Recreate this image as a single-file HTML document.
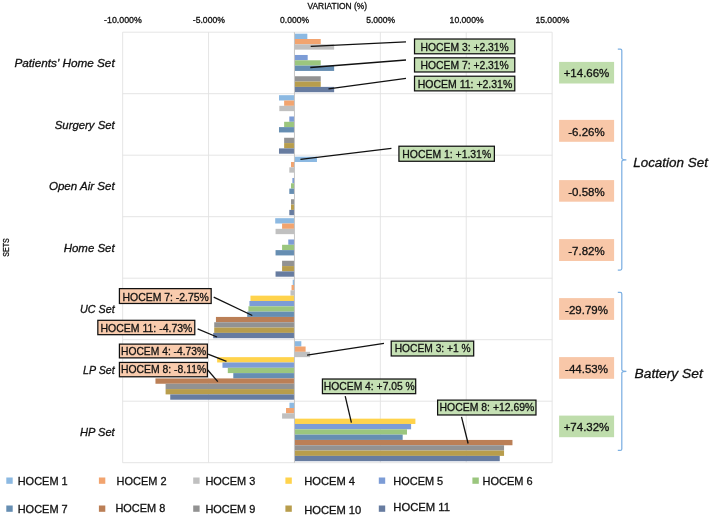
<!DOCTYPE html>
<html lang="en"><head><meta charset="utf-8"><title>Variation by set</title>
<style>html,body{margin:0;padding:0;background:#fff}svg{display:block}text{font-family:"Liberation Sans",sans-serif;fill:#111;stroke:#111;stroke-width:.3px}.it{font-style:italic}</style>
</head><body>
<svg width="710" height="518" viewBox="0 0 710 518">
<rect width="710" height="518" fill="#fff"/>
<path d="M122.65 32.20V462.70M208.55 32.20V462.70M380.35 32.20V462.70M466.25 32.20V462.70M552.15 32.20V462.70M122.65 32.20H552.15M122.65 93.70H552.15M122.65 155.20H552.15M122.65 216.70H552.15M122.65 278.20H552.15M122.65 339.70H552.15M122.65 401.20H552.15M122.65 462.70H552.15" stroke="#E2E2E2" stroke-width="0.9" fill="none"/>
<rect x="294.45" y="33.69" width="12.88" height="5.32" fill="#8CB9E2"/>
<rect x="294.45" y="39.01" width="26.29" height="5.32" fill="#F2A46F"/>
<rect x="294.45" y="44.33" width="39.69" height="5.32" fill="#C0C0C0"/>
<rect x="294.45" y="54.97" width="13.23" height="5.32" fill="#7C9CD6"/>
<rect x="294.45" y="60.29" width="26.29" height="5.32" fill="#9BC67E"/>
<rect x="294.45" y="65.61" width="39.69" height="5.32" fill="#668EB2"/>
<rect x="294.45" y="76.25" width="26.29" height="5.32" fill="#929292"/>
<rect x="294.45" y="81.57" width="26.29" height="5.32" fill="#B89D4C"/>
<rect x="294.45" y="86.89" width="39.69" height="5.32" fill="#677CA0"/>
<rect x="278.99" y="95.19" width="15.46" height="5.32" fill="#8CB9E2"/>
<rect x="284.14" y="100.51" width="10.31" height="5.32" fill="#F2A46F"/>
<rect x="279.33" y="105.83" width="15.12" height="5.32" fill="#C0C0C0"/>
<rect x="289.30" y="116.47" width="5.15" height="5.32" fill="#7C9CD6"/>
<rect x="284.14" y="121.79" width="10.31" height="5.32" fill="#9BC67E"/>
<rect x="278.99" y="127.11" width="15.46" height="5.32" fill="#668EB2"/>
<rect x="284.14" y="137.75" width="10.31" height="5.32" fill="#929292"/>
<rect x="284.14" y="143.07" width="10.31" height="5.32" fill="#B89D4C"/>
<rect x="278.99" y="148.39" width="15.46" height="5.32" fill="#677CA0"/>
<rect x="294.45" y="156.69" width="22.51" height="5.32" fill="#8CB9E2"/>
<rect x="291.01" y="162.01" width="3.44" height="5.32" fill="#F2A46F"/>
<rect x="289.30" y="167.33" width="5.15" height="5.32" fill="#C0C0C0"/>
<rect x="292.39" y="177.97" width="2.06" height="5.32" fill="#7C9CD6"/>
<rect x="291.01" y="183.29" width="3.44" height="5.32" fill="#9BC67E"/>
<rect x="289.30" y="188.61" width="5.15" height="5.32" fill="#668EB2"/>
<rect x="291.01" y="199.25" width="3.44" height="5.32" fill="#929292"/>
<rect x="291.01" y="204.57" width="3.44" height="5.32" fill="#B89D4C"/>
<rect x="289.30" y="209.89" width="5.15" height="5.32" fill="#677CA0"/>
<rect x="275.21" y="218.19" width="19.24" height="5.32" fill="#8CB9E2"/>
<rect x="282.08" y="223.51" width="12.37" height="5.32" fill="#F2A46F"/>
<rect x="275.55" y="228.83" width="18.90" height="5.32" fill="#C0C0C0"/>
<rect x="288.27" y="239.47" width="6.18" height="5.32" fill="#7C9CD6"/>
<rect x="282.08" y="244.79" width="12.37" height="5.32" fill="#9BC67E"/>
<rect x="275.55" y="250.11" width="18.90" height="5.32" fill="#668EB2"/>
<rect x="282.08" y="260.75" width="12.37" height="5.32" fill="#929292"/>
<rect x="282.08" y="266.07" width="12.37" height="5.32" fill="#B89D4C"/>
<rect x="275.55" y="271.39" width="18.90" height="5.32" fill="#677CA0"/>
<rect x="292.73" y="279.69" width="1.72" height="5.32" fill="#8CB9E2"/>
<rect x="291.53" y="285.01" width="2.92" height="5.32" fill="#F2A46F"/>
<rect x="290.50" y="290.33" width="3.95" height="5.32" fill="#C0C0C0"/>
<rect x="250.47" y="295.65" width="43.98" height="5.32" fill="#FFD34C"/>
<rect x="249.44" y="300.97" width="45.01" height="5.32" fill="#7C9CD6"/>
<rect x="248.41" y="306.29" width="46.04" height="5.32" fill="#9BC67E"/>
<rect x="247.20" y="311.61" width="47.24" height="5.32" fill="#668EB2"/>
<rect x="215.94" y="316.93" width="78.51" height="5.32" fill="#BB7F56"/>
<rect x="214.22" y="322.25" width="80.23" height="5.32" fill="#929292"/>
<rect x="214.22" y="327.57" width="80.23" height="5.32" fill="#B89D4C"/>
<rect x="213.19" y="332.89" width="81.26" height="5.32" fill="#677CA0"/>
<rect x="294.45" y="341.19" width="6.87" height="5.32" fill="#8CB9E2"/>
<rect x="294.45" y="346.51" width="11.17" height="5.32" fill="#F2A46F"/>
<rect x="294.45" y="351.83" width="15.63" height="5.32" fill="#C0C0C0"/>
<rect x="217.14" y="357.15" width="77.31" height="5.32" fill="#FFD34C"/>
<rect x="222.47" y="362.47" width="71.98" height="5.32" fill="#7C9CD6"/>
<rect x="227.79" y="367.79" width="66.66" height="5.32" fill="#9BC67E"/>
<rect x="233.29" y="373.11" width="61.16" height="5.32" fill="#668EB2"/>
<rect x="155.46" y="378.43" width="138.99" height="5.32" fill="#BB7F56"/>
<rect x="165.60" y="383.75" width="128.85" height="5.32" fill="#929292"/>
<rect x="165.60" y="389.07" width="128.85" height="5.32" fill="#B89D4C"/>
<rect x="170.24" y="394.39" width="124.21" height="5.32" fill="#677CA0"/>
<rect x="289.47" y="402.69" width="4.98" height="5.32" fill="#8CB9E2"/>
<rect x="286.03" y="408.01" width="8.42" height="5.32" fill="#F2A46F"/>
<rect x="282.08" y="413.33" width="12.37" height="5.32" fill="#C0C0C0"/>
<rect x="294.45" y="418.65" width="120.95" height="5.32" fill="#FFD34C"/>
<rect x="294.45" y="423.97" width="116.65" height="5.32" fill="#7C9CD6"/>
<rect x="294.45" y="429.29" width="112.53" height="5.32" fill="#9BC67E"/>
<rect x="294.45" y="434.61" width="108.23" height="5.32" fill="#668EB2"/>
<rect x="294.45" y="439.93" width="218.01" height="5.32" fill="#BB7F56"/>
<rect x="294.45" y="445.25" width="209.60" height="5.32" fill="#929292"/>
<rect x="294.45" y="450.57" width="209.60" height="5.32" fill="#B89D4C"/>
<rect x="294.45" y="455.89" width="205.30" height="5.32" fill="#677CA0"/>
<path d="M294.45 32.20V462.70" stroke="#C4C4C4" stroke-width="1" fill="none"/>
<text x="104.1" y="22.7" font-size="8.3" textLength="37.7" lengthAdjust="spacingAndGlyphs">-10.000%</text>
<text x="192.8" y="22.7" font-size="8.3" textLength="32.1" lengthAdjust="spacingAndGlyphs">-5.000%</text>
<text x="280.1" y="22.7" font-size="8.3" textLength="28.9" lengthAdjust="spacingAndGlyphs">0.000%</text>
<text x="366.2" y="22.7" font-size="8.3" textLength="28.9" lengthAdjust="spacingAndGlyphs">5.000%</text>
<text x="449.6" y="22.7" font-size="8.3" textLength="34.0" lengthAdjust="spacingAndGlyphs">10.000%</text>
<text x="535.4" y="22.7" font-size="8.3" textLength="34.0" lengthAdjust="spacingAndGlyphs">15.000%</text>
<text x="307.5" y="8.5" font-size="8.4" textLength="59.6" lengthAdjust="spacingAndGlyphs">VARIATION (%)</text>
<text transform="translate(8.5 256.7) rotate(-90)" font-size="8.4" textLength="18.4" lengthAdjust="spacingAndGlyphs">SETS</text>
<text x="14.4" y="67.2" font-size="11.4" class="it" textLength="100.3" lengthAdjust="spacingAndGlyphs">Patients' Home Set</text>
<text x="54.8" y="128.6" font-size="11.4" class="it" textLength="59.9" lengthAdjust="spacingAndGlyphs">Surgery Set</text>
<text x="48.9" y="190.0" font-size="11.4" class="it" textLength="65.8" lengthAdjust="spacingAndGlyphs">Open Air Set</text>
<text x="63.7" y="251.5" font-size="11.4" class="it" textLength="51.0" lengthAdjust="spacingAndGlyphs">Home Set</text>
<text x="80.0" y="312.9" font-size="11.4" class="it" textLength="34.7" lengthAdjust="spacingAndGlyphs">UC Set</text>
<text x="83.1" y="374.3" font-size="11.4" class="it" textLength="31.6" lengthAdjust="spacingAndGlyphs">LP Set</text>
<text x="80.0" y="435.7" font-size="11.4" class="it" textLength="34.7" lengthAdjust="spacingAndGlyphs">HP Set</text>
<path d="M406.0 41.8L310.7 46.4" stroke="#111" stroke-width="1.3" fill="none"/>
<rect x="414.52" y="39.02" width="100.25" height="14.75" fill="#C5E0B4" stroke="#111" stroke-width="1.25"/>
<text x="420.5" y="50.8" font-size="10.8" textLength="88.3" lengthAdjust="spacingAndGlyphs" fill="#000">HOCEM 3: +2.31%</text>
<path d="M406.0 60.0L310.3 67.5" stroke="#111" stroke-width="1.3" fill="none"/>
<rect x="414.52" y="57.83" width="100.25" height="14.15" fill="#C5E0B4" stroke="#111" stroke-width="1.25"/>
<text x="420.5" y="69.4" font-size="10.8" textLength="88.3" lengthAdjust="spacingAndGlyphs" fill="#000">HOCEM 7: +2.31%</text>
<path d="M406.0 78.3L328.5 88.8" stroke="#111" stroke-width="1.3" fill="none"/>
<rect x="414.52" y="76.22" width="100.25" height="14.65" fill="#C5E0B4" stroke="#111" stroke-width="1.25"/>
<text x="417.7" y="87.7" font-size="10.8" textLength="94.6" lengthAdjust="spacingAndGlyphs" fill="#000">HOCEM 11: +2.31%</text>
<path d="M391.4 148.4L300.4 159.3" stroke="#111" stroke-width="1.3" fill="none"/>
<rect x="398.93" y="146.22" width="95.45" height="15.05" fill="#C5E0B4" stroke="#111" stroke-width="1.25"/>
<text x="402.3" y="157.7" font-size="10.8" textLength="88.9" lengthAdjust="spacingAndGlyphs" fill="#000">HOCEM 1: +1.31%</text>
<path d="M213.7 297.2L252.3 315.5" stroke="#111" stroke-width="1.3" fill="none"/>
<rect x="119.42" y="288.62" width="91.75" height="14.85" fill="#F8CBAD" stroke="#111" stroke-width="1.25"/>
<text x="122.5" y="300.5" font-size="10.8" textLength="86.4" lengthAdjust="spacingAndGlyphs" fill="#000">HOCEM 7: -2.75%</text>
<path d="M197.6 328.9L217.0 337.0" stroke="#111" stroke-width="1.3" fill="none"/>
<rect x="97.83" y="320.32" width="96.95" height="14.35" fill="#F8CBAD" stroke="#111" stroke-width="1.25"/>
<text x="100.5" y="331.6" font-size="10.8" textLength="91.9" lengthAdjust="spacingAndGlyphs" fill="#000">HOCEM 11: -4.73%</text>
<path d="M208.0 354.1L226.5 361.4" stroke="#111" stroke-width="1.3" fill="none"/>
<rect x="119.42" y="344.12" width="87.95" height="13.75" fill="#F8CBAD" stroke="#111" stroke-width="1.25"/>
<text x="121.0" y="355.0" font-size="10.8" textLength="85.2" lengthAdjust="spacingAndGlyphs" fill="#000">HOCEM 4: -4.73%</text>
<path d="M207.3 369.5L217.8 381.6" stroke="#111" stroke-width="1.3" fill="none"/>
<rect x="119.42" y="362.43" width="87.95" height="14.35" fill="#F8CBAD" stroke="#111" stroke-width="1.25"/>
<text x="121.0" y="373.3" font-size="10.8" textLength="85.2" lengthAdjust="spacingAndGlyphs" fill="#000">HOCEM 8: -8.11%</text>
<path d="M384.0 343.3L307.1 355.1" stroke="#111" stroke-width="1.3" fill="none"/>
<rect x="391.23" y="341.12" width="82.45" height="14.85" fill="#C5E0B4" stroke="#111" stroke-width="1.25"/>
<text x="394.7" y="352.4" font-size="10.8" textLength="76.0" lengthAdjust="spacingAndGlyphs" fill="#000">HOCEM 3: +1 %</text>
<path d="M345.2 396.2L351.4 422.6" stroke="#111" stroke-width="1.3" fill="none"/>
<rect x="322.43" y="379.02" width="93.25" height="14.65" fill="#C5E0B4" stroke="#111" stroke-width="1.25"/>
<text x="323.8" y="389.8" font-size="10.8" textLength="91.0" lengthAdjust="spacingAndGlyphs" fill="#000">HOCEM 4: +7.05 %</text>
<path d="M461.5 416.9L468.1 443.5" stroke="#111" stroke-width="1.3" fill="none"/>
<rect x="437.62" y="400.12" width="98.35" height="14.85" fill="#C5E0B4" stroke="#111" stroke-width="1.25"/>
<text x="439.5" y="411.4" font-size="10.8" textLength="94.9" lengthAdjust="spacingAndGlyphs" fill="#000">HOCEM 8: +12.69%</text>
<rect x="559.1" y="61.9" width="55" height="21.6" fill="#BFDDAC"/>
<text x="586.5" y="77.4" font-size="11.5" text-anchor="middle" fill="#000">+14.66%</text>
<rect x="559.1" y="119.9" width="55" height="21.9" fill="#F8C7A8"/>
<text x="586.5" y="135.5" font-size="11.5" text-anchor="middle" fill="#000">-6.26%</text>
<rect x="559.1" y="180.1" width="55" height="21.6" fill="#F8C7A8"/>
<text x="586.5" y="195.5" font-size="11.5" text-anchor="middle" fill="#000">-0.58%</text>
<rect x="559.1" y="239.1" width="55" height="21.9" fill="#F8C7A8"/>
<text x="586.5" y="254.7" font-size="11.5" text-anchor="middle" fill="#000">-7.82%</text>
<rect x="559.1" y="298.1" width="55" height="21.8" fill="#F8C7A8"/>
<text x="586.5" y="313.6" font-size="11.5" text-anchor="middle" fill="#000">-29.79%</text>
<rect x="559.1" y="357.1" width="55" height="21.7" fill="#F8C7A8"/>
<text x="586.5" y="372.6" font-size="11.5" text-anchor="middle" fill="#000">-44.53%</text>
<rect x="559.1" y="415.6" width="55" height="21.6" fill="#BFDDAC"/>
<text x="586.5" y="431.0" font-size="11.5" text-anchor="middle" fill="#000">+74.32%</text>
<path d="M617.8 49.1H620.3Q621.8 49.1 621.8 50.6V158.1Q621.8 159.9 626.4 159.9Q621.8 159.9 621.8 161.7V268.5Q621.8 270.0 620.3 270.0H617.8" stroke="#7DB0E2" stroke-width="1.25" fill="none"/>
<path d="M617.8 292.4H620.3Q621.8 292.4 621.8 293.9V369.5Q621.8 371.3 626.4 371.3Q621.8 371.3 621.8 373.1V448.9Q621.8 450.4 620.3 450.4H617.8" stroke="#7DB0E2" stroke-width="1.25" fill="none"/>
<text x="633.2" y="166.9" font-size="13.7" class="it" textLength="74.7" lengthAdjust="spacingAndGlyphs" fill="#000">Location Set</text>
<text x="634.5" y="377.8" font-size="13.7" class="it" textLength="68.3" lengthAdjust="spacingAndGlyphs" fill="#000">Battery Set</text>
<rect x="6.3" y="477.5" width="6.4" height="6.3" fill="#8CB9E2"/>
<text x="17.7" y="485.0" font-size="11.3" textLength="50.0" lengthAdjust="spacingAndGlyphs" fill="#000">HOCEM 1</text>
<rect x="98.9" y="477.5" width="6.4" height="6.3" fill="#F2A46F"/>
<text x="116.6" y="485.0" font-size="11.3" textLength="50.0" lengthAdjust="spacingAndGlyphs" fill="#000">HOCEM 2</text>
<rect x="193.2" y="477.5" width="6.4" height="6.3" fill="#C0C0C0"/>
<text x="205.4" y="485.0" font-size="11.3" textLength="49.9" lengthAdjust="spacingAndGlyphs" fill="#000">HOCEM 3</text>
<rect x="285.4" y="477.5" width="6.4" height="6.3" fill="#FFD34C"/>
<text x="304.2" y="485.0" font-size="11.3" textLength="50.8" lengthAdjust="spacingAndGlyphs" fill="#000">HOCEM 4</text>
<rect x="378.8" y="477.5" width="6.4" height="6.3" fill="#7C9CD6"/>
<text x="393.3" y="485.0" font-size="11.3" textLength="49.9" lengthAdjust="spacingAndGlyphs" fill="#000">HOCEM 5</text>
<rect x="472.4" y="477.5" width="6.4" height="6.3" fill="#9BC67E"/>
<text x="482.5" y="485.0" font-size="11.3" textLength="50.2" lengthAdjust="spacingAndGlyphs" fill="#000">HOCEM 6</text>
<rect x="6.3" y="505.5" width="6.4" height="6.3" fill="#668EB2"/>
<text x="17.7" y="513.4" font-size="11.3" textLength="50.0" lengthAdjust="spacingAndGlyphs" fill="#000">HOCEM 7</text>
<rect x="98.9" y="505.5" width="6.4" height="6.3" fill="#BB7F56"/>
<text x="115.4" y="511.9" font-size="11.3" textLength="49.9" lengthAdjust="spacingAndGlyphs" fill="#000">HOCEM 8</text>
<rect x="193.2" y="505.5" width="6.4" height="6.3" fill="#929292"/>
<text x="205.4" y="513.1" font-size="11.3" textLength="49.9" lengthAdjust="spacingAndGlyphs" fill="#000">HOCEM 9</text>
<rect x="285.4" y="505.5" width="6.4" height="6.3" fill="#B89D4C"/>
<text x="304.2" y="513.6" font-size="11.3" textLength="57.1" lengthAdjust="spacingAndGlyphs" fill="#000">HOCEM 10</text>
<rect x="378.8" y="505.5" width="6.4" height="6.3" fill="#677CA0"/>
<text x="393.3" y="510.8" font-size="11.3" textLength="56.7" lengthAdjust="spacingAndGlyphs" fill="#000">HOCEM 11</text>
</svg></body></html>
